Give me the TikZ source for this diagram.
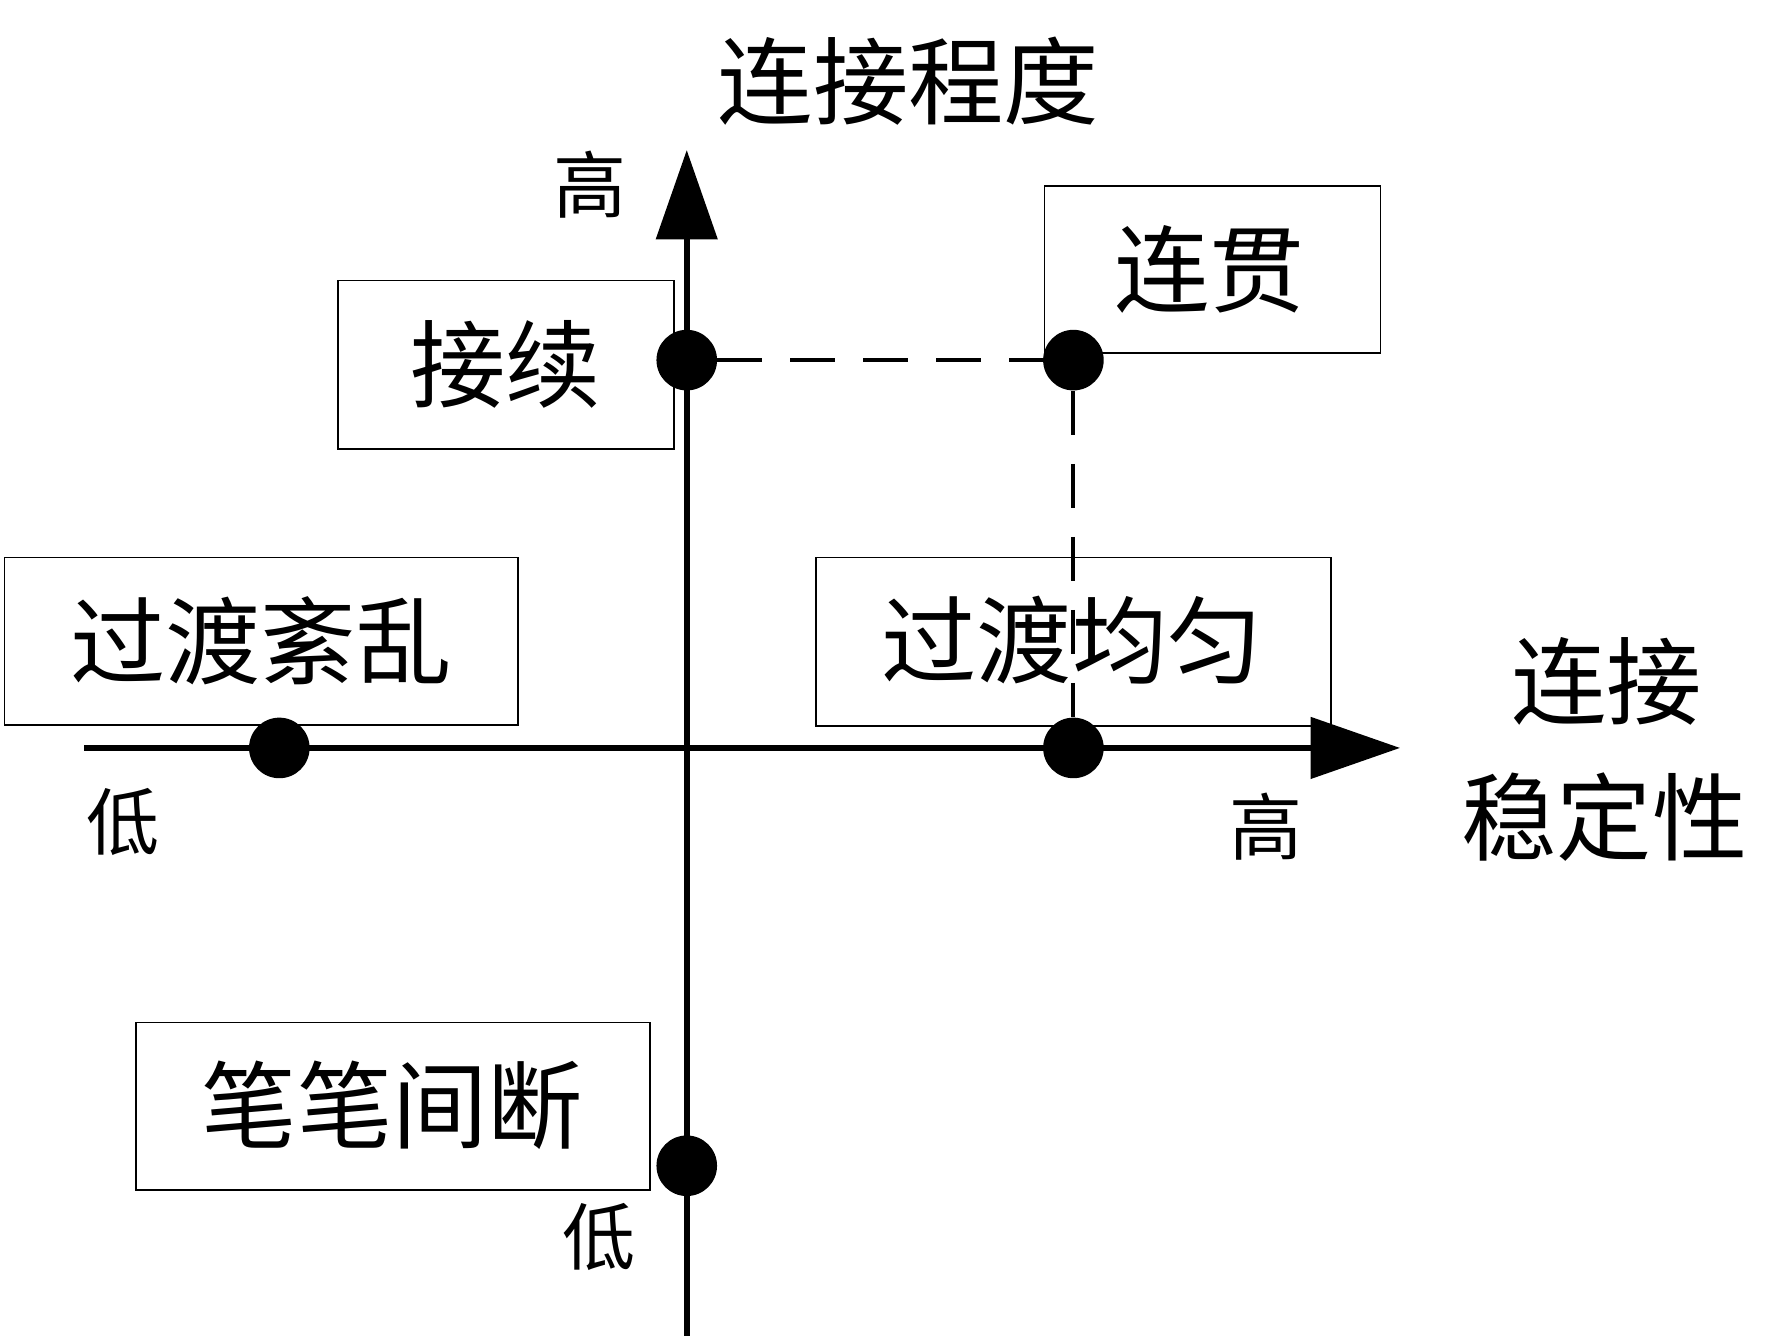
\documentclass[tikz,border=0pt]{standalone}
\usepackage{fontspec}
\newfontfamily\cjk{Noto Sans CJK SC}
\usetikzlibrary{arrows.meta}
\begin{document}
\begin{tikzpicture}[x=0.02cm,y=-0.02cm,
 big/.style={font=\cjk\fontsize{47}{50}\selectfont,inner sep=0pt},
 small/.style={font=\cjk\fontsize{36}{40}\selectfont,inner sep=0pt},
 box/.style={draw,line width=0.8pt,minimum width=#1},
 dot/.style={circle,fill=black,minimum size=1.05cm,inner sep=0pt},
 axis/.style={line width=3pt,-{Triangle[length=1.55cm,width=1.05cm]}}]
\useasboundingbox (0,0) rectangle (1550,1157);
% boxes
\draw[line width=0.8pt] (293,243) rectangle (584,389);
\draw[line width=0.8pt] (905,161) rectangle (1196,306);
\draw[line width=0.8pt] (4,483) rectangle (449,628);
\draw[line width=0.8pt] (707,483) rectangle (1153,629);
\draw[line width=0.8pt] (118,886) rectangle (563,1031);
\node[big] (t1) at (438,316) {接续};
\node[big] (t2) at (1048,233) {连贯};
\node[big] (t3) at (226,555) {过渡紊乱};
\node[big] (t4) at (929,555) {过渡均匀};
\node[big] (t5) at (340,958) {笔笔间断};
% axes
\coordinate (vb) at (595,1165); \coordinate (vt) at (595,130);
\coordinate (hl) at (73,648); \coordinate (hr) at (1213,648);
\draw[axis] (vb) -- (vt);
\draw[axis] (hl) -- (hr);
% dots
\node[dot] (d1) at (595,312) {};
\node[dot] (d2) at (930,312) {};
\node[dot] (d3) at (242,648) {};
\node[dot] (d4) at (930,648) {};
\node[dot] (d5) at (595,1010) {};
\draw[line width=2pt,dash pattern=on 22pt off 14pt] (d1) -- (d2) -- (d4);
% labels
\node[big] (ly) at (787,70) {连接程度};
\node[small] (yh) at (511,160) {高};
\node[small] (yl) at (519,1072) {低};
\node[small] (xl) at (107,712) {低};
\node[small] (xh) at (1097,716) {高};
\node[big] (lx1) at (1392,590) {连接};
\node[big] (lx2) at (1390,708) {稳定性};
\end{tikzpicture}
\end{document}
